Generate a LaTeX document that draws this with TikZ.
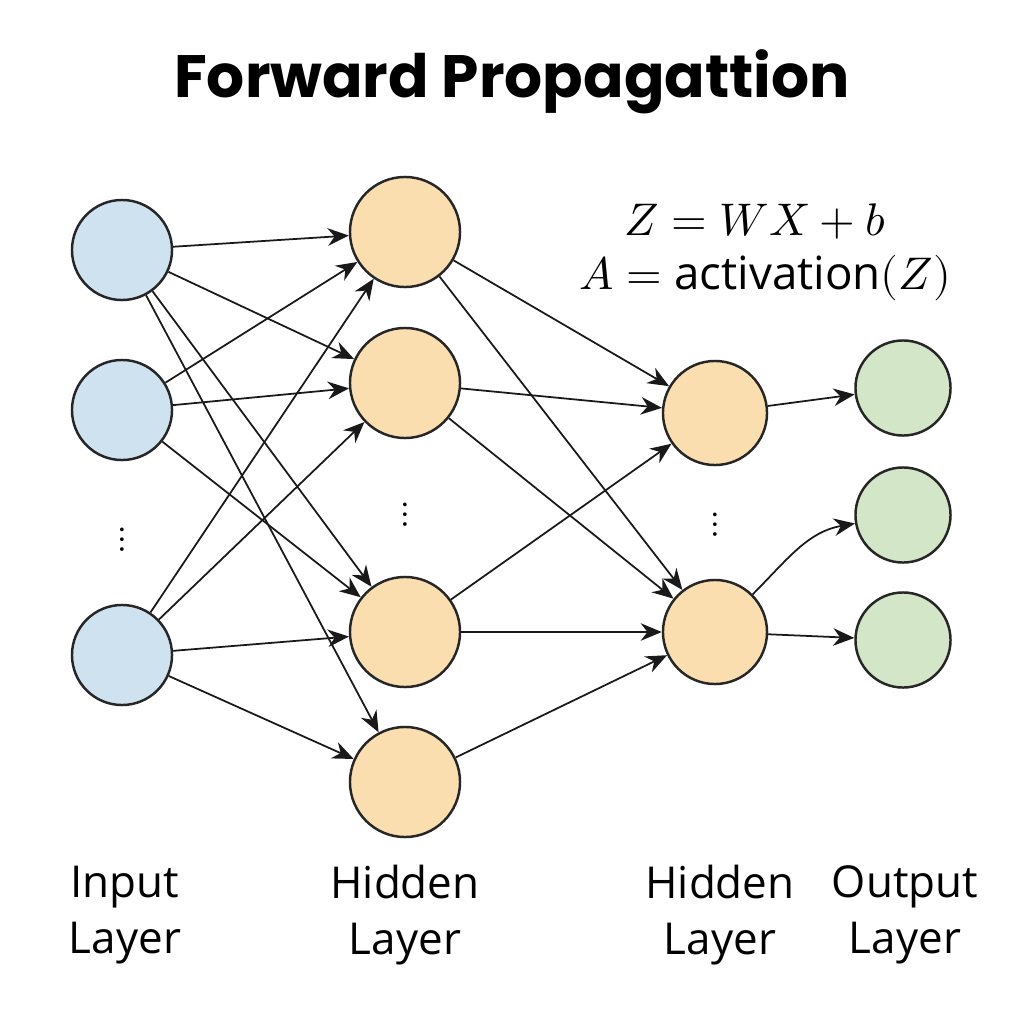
\documentclass[tikz,border=0pt]{standalone}
\usepackage{fontspec}
\setmainfont{Open Sans}
\newfontfamily\titlefont{Poppins}
\usepackage{unicode-math}
\setmathfont{Latin Modern Math}
\usetikzlibrary{arrows.meta}
\definecolor{inblue}{RGB}{206,226,240}
\definecolor{hidorange}{RGB}{250,222,176}
\definecolor{outgreen}{RGB}{211,231,200}
\begin{document}
\begin{tikzpicture}[x=0.01cm,y=-0.01cm,
  neuron/.style={circle,draw=black!85,line width=0.7pt},
  inp/.style={neuron,fill=inblue,minimum size=1.0cm},
  hid/.style={neuron,fill=hidorange,minimum size=1.1cm},
  hidb/.style={neuron,fill=hidorange,minimum size=1.04cm},
  outp/.style={neuron,fill=outgreen,minimum size=0.95cm},
  conn/.style={-{Stealth[length=6pt,width=5pt]},line width=0.5pt,black!90},
  lab/.style={align=center,font=\fontsize{12.5}{16}\selectfont},
  vdots/.style={font=\normalsize}]
\useasboundingbox (0,0) rectangle (1024,1024);
\node[font=\titlefont\bfseries\fontsize{17}{20}\selectfont] (title) at (512,82) {Forward Propagattion};
% input layer
\node[inp] (i1) at (122,250) {};
\node[inp] (i2) at (122,410) {};
\node[inp] (i3) at (122,655) {};
\node[vdots] (id) at (122,540) {$\vdots$};
% first hidden layer
\node[hid] (a1) at (405,232) {};
\node[hid] (a2) at (405,383) {};
\node[hid] (a3) at (405,632) {};
\node[hid] (a4) at (405,782) {};
\node[vdots] (ad) at (405,515) {$\vdots$};
% second hidden layer
\node[hidb] (b1) at (715,413) {};
\node[hidb] (b2) at (715,632) {};
\node[vdots] (bd) at (715,525) {$\vdots$};
% output layer
\node[outp] (o1) at (903,388) {};
\node[outp] (o2) at (903,515) {};
\node[outp] (o3) at (903,640) {};
% equations
\node[font=\fontsize{13}{16}\selectfont] (eq1) at (755,222) {$Z = WX + b$};
\node[font=\fontsize{13}{16}\selectfont] (eq2) at (765,278) {$A = \textrm{\fontspec{Open Sans}activation}(Z)$};
% labels
\node[lab] (l1) at (125,915) {Input\\Layer};
\node[lab] (l2) at (405,915) {Hidden\\Layer};
\node[lab] (l3) at (720,915) {Hidden\\Layer};
\node[lab] (l4) at (905,915) {Output\\Layer};
% connections
\foreach \s/\t in {i1/a1,i1/a2,i1/a3,i1/a4,i2/a1,i2/a2,i2/a3,i3/a1,i3/a2,i3/a3,i3/a4,
  a1/b1,a1/b2,a2/b1,a2/b2,a3/b1,a3/b2,a4/b2,b1/o1,b2/o3}
  \draw[conn] (\s) -- (\t);
\draw[conn] (b2) to[out=45,in=190] (o2);
\end{tikzpicture}
\end{document}
